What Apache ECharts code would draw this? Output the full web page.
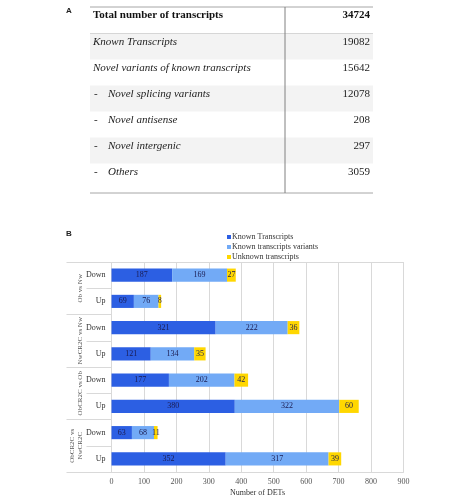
<!DOCTYPE html>
<html><head><meta charset="utf-8">
<script src="https://cdn.jsdelivr.net/npm/echarts@6/dist/echarts.min.js"></script>
<style>html,body{margin:0;padding:0;background:#fff}#c{width:474px;height:504px}</style>
</head><body><div id="c"></div>
<script>
// ---- Table A data ----
const tableHeader = ["Total number of transcripts", "34724"];
const tableLabels = ["Known Transcripts", "Novel variants of known transcripts", "Novel splicing variants", "Novel antisense", "Novel intergenic", "Others"];
const tableValues = ["19082", "15642", "12078", "208", "297", "3059"];
const tableIndent = [false, false, true, true, true, true];

// ---- Chart B data ----
const groups = ["Ob vs Nw", "NwCR2C vs Nw", "ObCR2C vs Ob", "ObCR2C vs\nNwCR2C"];
const categories = ["Down", "Up", "Down", "Up", "Down", "Up", "Down", "Up"];
const seriesNames = ["Known Transcripts", "Known transcripts variants", "Unknown transcripts"];
const known = [187, 69, 321, 121, 177, 380, 63, 352];
const variants = [169, 76, 222, 134, 202, 322, 68, 317];
const unknown = [27, 8, 36, 35, 42, 60, 11, 39];
const xTicks = [0, 900, 100];

const serif = '"Liberation Serif", "DejaVu Serif", serif';
const chart = echarts.init(document.getElementById('c'));

// table graphics
const g = [];
const tx0 = 90, tx1 = 373, divX = 285, top0 = 7, headH = 26.5, rowH = 26;
g.push({type:'text', left: 66, top: 7, style:{text:'A', font:'bold 8px "Liberation Sans", Arial, sans-serif', fill:'#222'}});
g.push({type:'text', left: 66, top: 230, style:{text:'B', font:'bold 8px "Liberation Sans", Arial, sans-serif', fill:'#222'}});
tableLabels.forEach((lab, i) => {
  const y = top0 + headH + i * rowH;
  if (i % 2 === 0) g.push({type:'rect', shape:{x:tx0, y:y, width:tx1-tx0, height:rowH}, style:{fill:'#f3f3f3'}, z:0});
});
g.push({type:'line', shape:{x1:tx0, y1:top0, x2:tx1, y2:top0}, style:{stroke:'#a6a6a6', lineWidth:1}, z:2});
g.push({type:'line', shape:{x1:tx0, y1:top0+headH, x2:tx1, y2:top0+headH}, style:{stroke:'#d6d6d6', lineWidth:1}, z:2});
g.push({type:'line', shape:{x1:tx0, y1:193, x2:tx1, y2:193}, style:{stroke:'#a6a6a6', lineWidth:1}, z:2});
g.push({type:'line', shape:{x1:divX, y1:top0, x2:divX, y2:193}, style:{stroke:'#808080', lineWidth:1}, z:2});
g.push({type:'text', x: 93, y: 15, style:{text:tableHeader[0], font:'bold 11px ' + serif, fill:'#111', textVerticalAlign:'middle'}, z:3});
g.push({type:'text', x: 370, y: 15, style:{text:tableHeader[1], font:'bold 11px ' + serif, fill:'#111', textAlign:'right', textVerticalAlign:'middle'}, z:3});
tableLabels.forEach((lab, i) => {
  const cy = 42 + i * rowH;
  if (tableIndent[i]) {
    g.push({type:'text', x: 94, y: cy, style:{text:'-', font:'11px ' + serif, fill:'#222', textVerticalAlign:'middle'}, z:3});
    g.push({type:'text', x: 108, y: cy, style:{text:lab, font:'italic 11px ' + serif, fill:'#222', textVerticalAlign:'middle'}, z:3});
  } else {
    g.push({type:'text', x: 93, y: cy, style:{text:lab, font:'italic 11px ' + serif, fill:'#222', textVerticalAlign:'middle'}, z:3});
  }
  g.push({type:'text', x: 370, y: cy, style:{text:tableValues[i], font:'11px ' + serif, fill:'#222', textAlign:'right', textVerticalAlign:'middle'}, z:3});
});

const colors = ['#2c5fe3', '#72aaf6', '#ffd700'];
const dataArr = [known, variants, unknown];
const series = seriesNames.map((n, k) => ({
  name: n, type: 'bar', stack: 'total', barWidth: '50%',
  data: dataArr[k],
  itemStyle: {color: colors[k]},
  label: {show: true, position: 'inside', fontFamily: serif, fontSize: 8, color: '#1b1b50'}
}));

chart.setOption({
  animation: false,
  textStyle: {fontFamily: serif},
  color: colors,
  legend: {
    orient: 'vertical', left: 222, top: 228, itemGap: 2, itemWidth: 4, itemHeight: 4,
    icon: 'rect', textStyle: {fontFamily: serif, fontSize: 8, color: '#333', padding: [0,0,0,-4]},
    data: seriesNames
  },
  grid: {left: 111.5, right: 70.5, top: 262, bottom: 32, containLabel: false},
  xAxis: [{
    type: 'value', min: xTicks[0], max: xTicks[1], interval: xTicks[2], position: 'bottom',
    name: 'Number of DETs', nameLocation: 'middle', nameGap: 17,
    nameTextStyle: {fontFamily: serif, fontSize: 8, color: '#333'},
    axisLine: {show: true, lineStyle: {color: '#d9d9d9'}},
    axisTick: {show: false},
    axisLabel: {fontFamily: serif, fontSize: 8, color: '#555', margin: 6},
    splitLine: {show: true, lineStyle: {color: '#d9d9d9'}}
  }, {
    type: 'value', min: xTicks[0], max: xTicks[1], interval: xTicks[2], position: 'top',
    axisLine: {show: true, lineStyle: {color: '#d9d9d9'}},
    axisTick: {show: false}, axisLabel: {show: false}, splitLine: {show: false}
  }],
  yAxis: [{
    type: 'category', data: categories, inverse: true, position: 'left',
    axisLine: {show: false},
    axisTick: {show: true, interval: 0, length: 25, lineStyle: {color: '#d9d9d9'}},
    axisLabel: {interval: 0, fontFamily: serif, fontSize: 8, color: '#333', margin: 6}
  }, {
    type: 'category', data: groups, inverse: true, position: 'left',
    axisLine: {show: false},
    axisTick: {show: true, interval: 0, length: 45, lineStyle: {color: '#d9d9d9'}},
    axisLabel: {interval: 0, hideOverlap: false, fontFamily: serif, fontSize: 7, color: '#555', rotate: 90, margin: 27, lineHeight: 8, align: 'center'}
  }],
  series: series,
  graphic: g
});
</script></body></html>
